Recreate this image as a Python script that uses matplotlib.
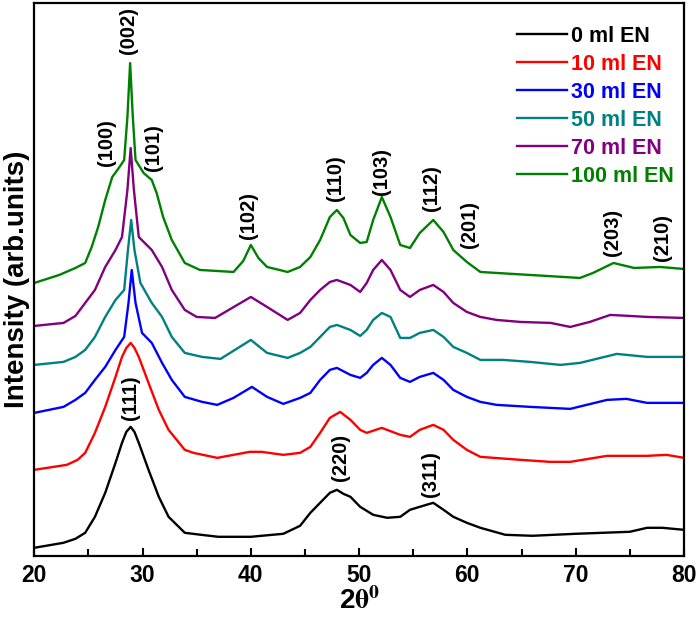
import numpy as np
import matplotlib
matplotlib.use('Agg')
import matplotlib.pyplot as plt
from matplotlib.ticker import MultipleLocator

plt.rcParams['font.family'] = ['Liberation Sans', 'DejaVu Sans']
plt.rcParams['font.weight'] = 'bold'
plt.rcParams['mathtext.fontset'] = 'stix'

# ---- XRD patterns (2theta in degrees, stacked intensity in arb. units) ----
x_0ml = [20, 22.7, 23.8, 24.7, 25.6, 26.55, 27.5, 28.1, 28.5, 28.9, 29.25, 29.65, 30.55, 31.5,
         32.4, 33.9, 35.4, 37, 40, 43, 44.55, 45.5, 46.4, 47.3, 47.95, 48.55, 49.2, 50.1, 51.3,
         52.6, 53.8, 54.7, 55.6, 56.85, 57.8, 58.7, 59.95, 61.2, 63.5, 66, 70, 75, 76.6, 78, 80]
y_0ml = [8, 13, 17, 23, 39, 63, 93, 113, 124, 129, 124, 113, 86, 59,
         39, 23, 21, 19, 19, 22, 30, 43, 53, 63, 66, 62, 59, 49, 41,
         38, 39, 46, 49, 53, 46, 39, 33, 28, 21, 20, 22, 24, 28, 28, 26]

x_10ml = [20, 23, 24, 24.7, 25.6, 26.55, 27.5, 28.1, 28.5, 28.9, 29.25, 29.65, 30.55, 31.5, 32.4,
          33.9, 34.7, 36.9, 39.9, 41, 43, 44.55, 45.5, 46.4, 47.3, 48.25, 49.2, 50.1, 50.7, 52.1,
          53.8, 54.7, 55.6, 56.85, 57.8, 58.7, 59.95, 61.2, 64.9, 67.6, 69.5, 72.9, 76.6, 78.4, 80]
y_10ml = [86, 91, 96, 103, 123, 149, 179, 199, 208, 213, 208, 199, 173, 146, 126,
          106, 103, 98, 104, 104, 101, 103, 109, 123, 138, 144, 136, 126, 123, 128,
          121, 119, 126, 131, 126, 116, 106, 99, 96, 94, 94, 100, 100, 101, 98]

x_30ml = [20, 22.7, 23.8, 24.7, 25.6, 26.55, 27.5, 28.3, 28.7, 29.0, 29.35, 29.95, 30.85, 31.8,
          32.7, 33.9, 35.5, 36.9, 38.4, 40.1, 41.5, 43, 44.55, 45.5, 46.4, 47.3, 47.95, 49.2,
          50.1, 50.7, 51.3, 52.1, 52.9, 53.8, 54.7, 55.6, 56.85, 57.8, 58.7, 59.95, 61.2, 62.7,
          65.8, 69.5, 72.9, 74.7, 76.6, 80]
y_30ml = [143, 149, 156, 163, 176, 189, 206, 219, 253, 286, 253, 223, 213, 193,
          176, 159, 154, 151, 158, 169, 159, 152, 158, 163, 176, 186, 188, 181,
          178, 183, 191, 198, 191, 178, 174, 179, 183, 176, 166, 159, 154, 151,
          149, 147, 156, 157, 153, 153]

x_50ml = [20, 22.7, 23.8, 24.7, 25.6, 26.55, 27.5, 28.3, 28.65, 28.95, 29.25, 29.8, 30.85, 31.8,
          32.7, 33.9, 35.5, 37.2, 40, 41.5, 43.4, 44.55, 45.5, 46.4, 47.3, 47.95, 49.2, 50.1,
          50.7, 51.3, 52.1, 52.9, 53.8, 54.7, 55.6, 56.85, 57.8, 58.7, 59.95, 61.2, 63.3, 65.8,
          68.6, 70.4, 73.8, 76.6, 80]
y_50ml = [191, 194, 199, 206, 219, 239, 256, 266, 306, 336, 306, 273, 253, 239,
          219, 203, 199, 197, 216, 203, 198, 203, 209, 219, 229, 231, 226, 220,
          226, 236, 243, 239, 218, 218, 223, 226, 219, 209, 203, 196, 196, 194,
          191, 193, 202, 199, 199]

x_70ml = [20, 22.7, 23.8, 24.7, 25.6, 26.55, 27.5, 28.1, 28.6, 28.9, 29.2, 29.65, 30.85, 31.8,
          32.7, 33.9, 35, 36.7, 40, 41.5, 43.4, 44.55, 45.5, 46.4, 47.3, 47.95, 49.2, 50.1, 50.7,
          51.3, 52.1, 52.9, 53.8, 54.7, 55.6, 56.85, 57.8, 58.7, 59.95, 61.2, 62.7, 64.9, 67.7,
          69.5, 71.3, 73.2, 75, 76.6, 80]
y_70ml = [230, 233, 240, 253, 266, 289, 306, 319, 366, 408, 366, 319, 306, 289,
          266, 246, 239, 238, 259, 249, 236, 243, 256, 266, 274, 276, 271, 264, 273,
          286, 296, 286, 266, 259, 266, 271, 264, 253, 244, 239, 236, 234, 233,
          229, 234, 241, 240, 239, 238]

x_100ml = [20, 22.3, 23.8, 24.7, 25.3, 25.9, 26.55, 27.2, 27.8, 28.3, 28.6, 28.85, 29.1, 29.35,
           30.1, 30.85, 31.3, 31.9, 32.7, 33.9, 35.3, 38.4, 39.3, 40, 40.7, 41.5, 43.4, 44.55,
           45.5, 46.4, 47.3, 47.95, 48.55, 49.2, 50.1, 50.7, 51.3, 52.1, 52.9, 53.8, 54.7, 55.6,
           56.85, 57.8, 58.7, 59.95, 61.2, 62.7, 65.8, 70.4, 71.6, 73.5, 75.4, 77.8, 80]
y_100ml = [273, 281, 288, 293, 309, 329, 356, 379, 388, 396, 439, 493, 439, 396,
           383, 376, 363, 339, 316, 293, 286, 284, 295, 311, 298, 289, 284, 289,
           299, 316, 339, 346, 338, 321, 313, 314, 336, 359, 339, 311, 308, 323,
           336, 324, 306, 294, 284, 283, 281, 278, 283, 293, 288, 289, 287]

series_labels = ['0 ml EN', '10 ml EN', '30 ml EN', '50 ml EN', '70 ml EN', '100 ml EN']
series_colors = ['#000000', '#ff0000', '#0000ff', '#008080', '#800080', '#008000']
series_x = [x_0ml, x_10ml, x_30ml, x_50ml, x_70ml, x_100ml]
series_y = [y_0ml, y_10ml, y_30ml, y_50ml, y_70ml, y_100ml]

# Miller index annotations
hkl_text = ['(002)', '(100)', '(101)', '(102)', '(110)', '(103)', '(112)', '(201)', '(203)',
            '(210)', '(111)', '(220)', '(311)']
hkl_x = [28.7, 26.7, 31.0, 39.8, 47.8, 52.1, 56.7, 60.2, 73.4, 78.0, 28.9, 48.3, 56.6]
hkl_y = [526, 413, 408, 341, 378, 385, 368, 331, 324, 318, 158, 98, 82]

fig = plt.figure(figsize=(7.0, 6.28), dpi=100)
ax = fig.add_axes([0.049, 0.115, 0.928, 0.880])

for xs, ys, lab, col in zip(series_x, series_y, series_labels, series_colors):
    ax.plot(xs, ys, color=col, lw=1.7, label=lab)

for t, hx, hy in zip(hkl_text, hkl_x, hkl_y):
    ax.text(hx, hy, t, rotation=90, ha='center', va='center', fontsize=14.5, fontweight='bold')

ax.set_xlim(20, 80)
ax.set_ylim(0, 553)
ax.xaxis.set_major_locator(MultipleLocator(10))
ax.xaxis.set_minor_locator(MultipleLocator(5))
ax.tick_params(axis='x', which='major', direction='in', length=6, width=1.5, labelsize=16.5, pad=6)
ax.tick_params(axis='x', which='minor', direction='in', length=5, width=1.5)
ax.set_yticks([])
for s in ax.spines.values():
    s.set_linewidth(1.6)

ax.set_xlabel(r'2$\mathrm{\theta}^{0}$', fontsize=20, fontweight='bold', labelpad=0)
ax.set_ylabel('Intensity (arb.units)', fontsize=20, fontweight='bold', labelpad=3)

leg = ax.legend(loc='upper left', bbox_to_anchor=(0.727, 0.979), frameon=False,
                fontsize=15.5, handlelength=2.3, handletextpad=0.2, labelspacing=0.33,
                borderpad=0, labelcolor='linecolor')
for h in leg.get_lines():
    h.set_linewidth(1.7)

fig.savefig('out.png', dpi=100)
